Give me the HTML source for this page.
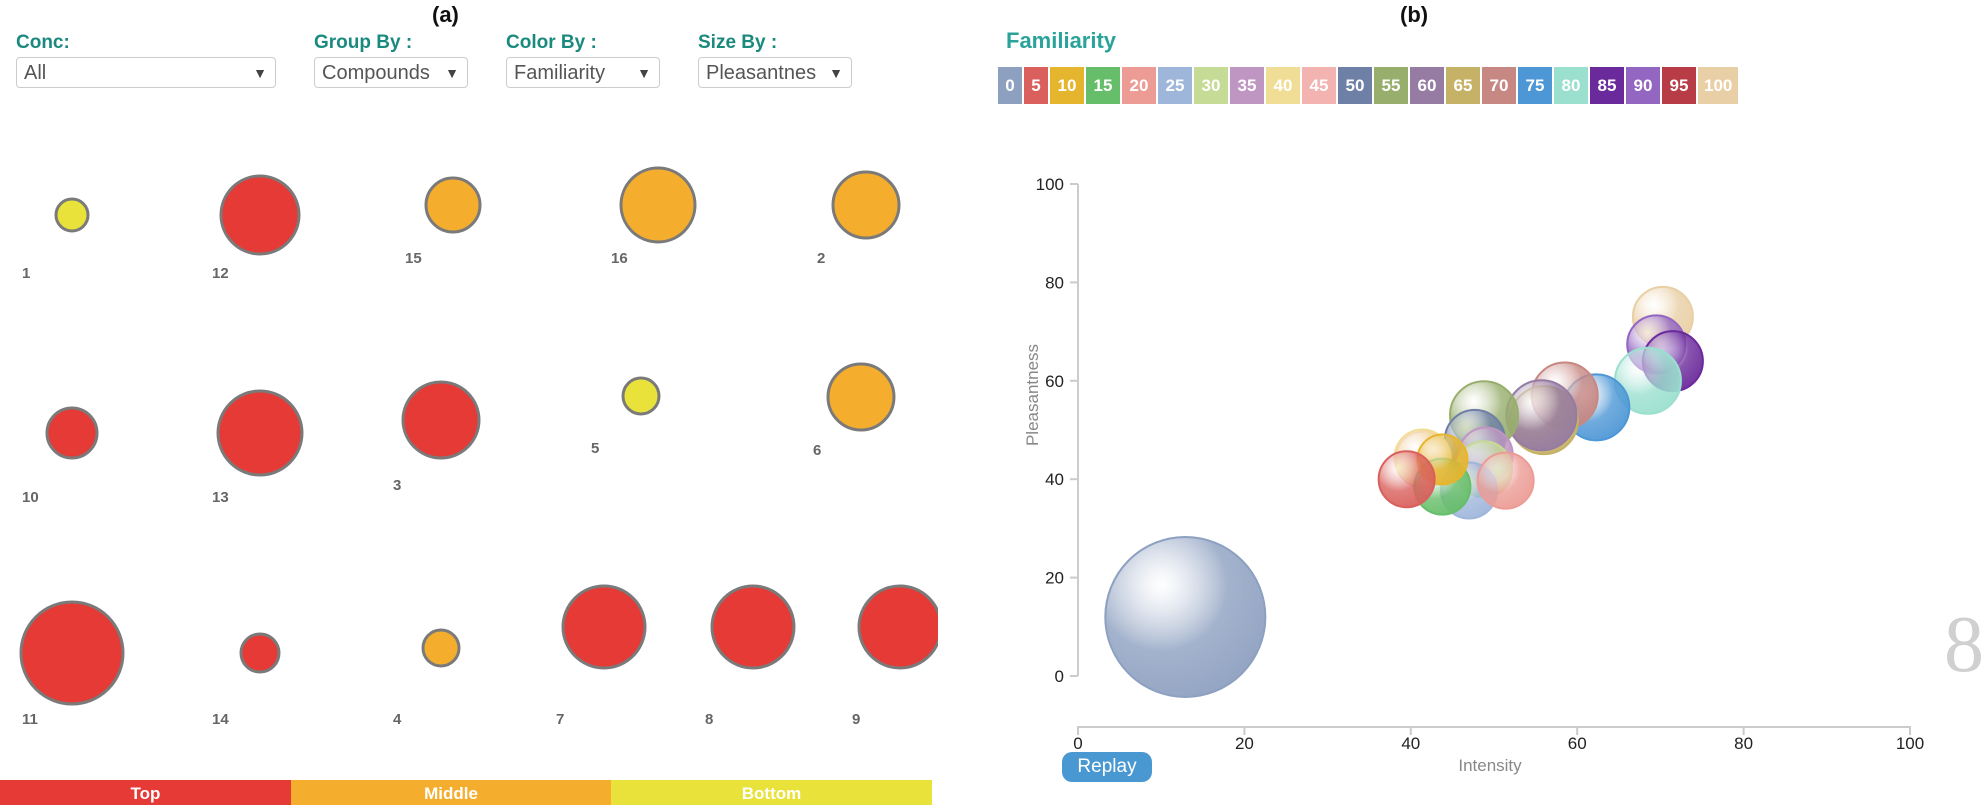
<!DOCTYPE html>
<html><head><meta charset="utf-8">
<style>
body{margin:0;width:1982px;height:812px;background:#fff;font-family:"Liberation Sans",sans-serif;position:relative;overflow:hidden}
.lbl{position:absolute;color:#1b8a7e;font-weight:bold;font-size:19px}
.dd{position:absolute;height:31px;border:1px solid #ccc;border-radius:4px;font-size:20px;color:#555;line-height:31px;padding-left:7px;box-sizing:border-box;background:#fff}
.dd span{position:absolute;right:8px;font-size:14px;color:#444}
.title{position:absolute;font-weight:bold;font-size:22px;color:#111}
</style></head><body>
<div class="title" style="left:432px;top:2px">(a)</div>
<div class="title" style="left:1400px;top:2px">(b)</div>
<div class="lbl" style="left:16px;top:32px">Conc:</div>
<div class="dd" style="left:16px;top:57px;width:260px">All<span>▼</span></div>
<div class="lbl" style="left:314px;top:32px">Group By :</div>
<div class="dd" style="left:314px;top:57px;width:154px">Compounds<span>▼</span></div>
<div class="lbl" style="left:506px;top:32px">Color By :</div>
<div class="dd" style="left:506px;top:57px;width:154px">Familiarity<span>▼</span></div>
<div class="lbl" style="left:698px;top:32px">Size By :</div>
<div class="dd" style="left:698px;top:57px;width:154px;overflow:hidden">Pleasantnes<span style="background:#fff">▼</span></div>
<div class="lbl" style="left:1006px;top:28px;font-size:22px;color:#2aa39a">Familiarity</div>
<div id="legend" style="position:absolute;left:998px;top:67px;height:37px;display:flex;gap:2px"></div>

<svg id="left" width="960" height="812" style="position:absolute;left:0;top:0"></svg>
<svg id="right" width="1982" height="812" style="position:absolute;left:0;top:0"></svg>

<div style="position:absolute;left:1062px;top:752px;width:90px;height:30px;background:#4a98d2;border-radius:10px;color:#fff;font-size:19px;text-align:center;line-height:30px">Replay</div>
<div style="position:absolute;left:1944px;top:600px;font-family:'Liberation Serif',serif;font-size:80px;color:#d0d0d0">8</div>

<script>
const NS="http://www.w3.org/2000/svg";
function mk(p,t,a){const e=document.createElementNS(NS,t);for(const k in a)e.setAttribute(k,a[k]);p.appendChild(e);return e;}
const famLevels=[0,5,10,15,20,25,30,35,40,45,50,55,60,65,70,75,80,85,90,95,100];
const famColors=["#8da0c0","#d9605c","#e6b52e","#67be6a","#ec9c95","#9fb6db","#c6db95","#bf96c2","#f1de96","#f2b3b1","#6f80a6","#98ae6d","#967ba2","#c6b266","#c78883","#4e97d6","#9be0cf","#6b2a9b","#9366c2","#b73c45","#e9cfa5"];
const lg=document.getElementById('legend');
famLevels.forEach((v,i)=>{const d=document.createElement('div');


d.style.cssText=`background:${famColors[i]};color:#fff;font-weight:bold;font-size:17px;height:37px;line-height:37px;padding:0 ${v<10?5:6}px;min-width:${v<10?14:22}px;text-align:center`;
d.textContent=v;lg.appendChild(d);});

const compIds=[1,12,15,16,2,10,13,3,5,6,11,14,4,7,8,9];
const compGroup=["bottom","top","middle","middle","middle","top","top","top","bottom","middle","top","top","middle","top","top","top"];
const compSize=[16,39,27,37,33,25,42,38,18,33,51,19,18,41,41,41];
const compCx=[72,260,453,658,866,72,260,441,641,861,72,260,441,604,753,900];
const compCy=[215,215,205,205,205,433,433,420,396,397,653,653,648,627,627,627];
const labX=[22,212,405,611,817,22,212,393,591,813,22,212,393,556,705,852];
const labY=[278,278,263,263,263,502,502,490,453,455,724,724,724,724,724,724];
const gcol={top:"#e63a37",middle:"#f5ad2e",bottom:"#e8e23a"};
const L=document.getElementById('left');
const clip=mk(L,'clipPath',{id:'lc'});mk(clip,'rect',{x:0,y:0,width:938,height:812});
const g=mk(L,'g',{'clip-path':'url(#lc)'});
compIds.forEach((id,i)=>{
 const c=mk(g,'circle',{cx:compCx[i],cy:compCy[i],r:compSize[i],fill:gcol[compGroup[i]],stroke:'#7a7a7a','stroke-width':3});
 
 
 const t=mk(L,'text',{x:labX[i],y:labY[i],'font-size':15,'font-weight':'bold',fill:'#666','font-family':'Liberation Sans'});
 t.textContent=id;
 
 
});
const bars=[["Top",0,291,"#e63a37"],["Middle",291,611,"#f5ad2e"],["Bottom",611,932,"#e8e23a"]];
bars.forEach(b=>{const r=mk(L,'rect',{x:b[1],y:780,width:b[2]-b[1],height:25,fill:b[3]});


const t=mk(L,'text',{x:(b[1]+b[2])/2,y:799,'text-anchor':'middle',fill:'#fff','font-size':17,'font-weight':'bold','font-family':'Liberation Sans'});t.textContent=b[0];

});

const xTicks=[0,20,40,60,80,100];
const yTicks=[0,20,40,60,80,100];
const famVals=[0,100,90,85,80,75,70,65,60,55,50,45,40,35,30,25,20,15,10,5];
const intensity=[12.9,70.3,69.5,71.5,68.5,62.3,58.5,56,55.7,48.8,47.7,41.5,41.4,49,48.8,47,51.4,43.8,43.8,39.5];
const pleasant=[12,73,67.4,64,60,54.6,57,52,53,53,48,44,44.4,45,42,37.7,39.7,38.5,44,40];
const bsize=[80,30,29,30,33,33,33,34,35,34,30,28,28,27,28,28,28,28,25,28];
const X=v=>1078+v*8.32, Y=v=>676-v*4.92;
const R=document.getElementById('right');
const defs=mk(R,'defs',{});
famColors.forEach((c,i)=>{const rg=mk(defs,'radialGradient',{id:'g'+i,cx:'35%',cy:'30%',r:'75%'});
mk(rg,'stop',{offset:'0%','stop-color':'#fff','stop-opacity':0.45});
mk(rg,'stop',{offset:'55%','stop-color':c,'stop-opacity':0.8});
mk(rg,'stop',{offset:'100%','stop-color':c,'stop-opacity':0.95});});
mk(R,'line',{x1:1078,y1:184,x2:1078,y2:676,stroke:'#ccc','stroke-width':2});
yTicks.forEach(v=>{mk(R,'line',{x1:1070,x2:1078,y1:Y(v),y2:Y(v),stroke:'#ccc','stroke-width':2});
const t=mk(R,'text',{x:1064,y:Y(v)+6,'text-anchor':'end','font-size':17,fill:'#222','font-family':'Liberation Sans'});t.textContent=v;

});
mk(R,'path',{d:`M${X(0)},735V727H${X(100)}V735`,fill:'none',stroke:'#ccc','stroke-width':2});
xTicks.forEach(v=>{mk(R,'line',{x1:X(v),x2:X(v),y1:727,y2:735,stroke:'#ccc','stroke-width':2});
const t=mk(R,'text',{x:X(v),y:749,'text-anchor':'middle','font-size':17,fill:'#222','font-family':'Liberation Sans'});t.textContent=v;

});
let t=mk(R,'text',{x:1490,y:771,'text-anchor':'middle','font-size':17,fill:'#888','font-family':'Liberation Sans'});t.textContent='Intensity';


t=mk(R,'text',{x:0,y:0,'text-anchor':'middle','font-size':17,fill:'#888','font-family':'Liberation Sans',transform:'translate(1038,395) rotate(-90)'});t.textContent='Pleasantness';


famVals.forEach((f,i)=>{const ci=famLevels.indexOf(f);
const c=mk(R,'circle',{cx:X(intensity[i]),cy:Y(pleasant[i]),r:bsize[i],fill:`url(#g${ci})`,stroke:famColors[ci],'stroke-width':2});

});
</script>
</body></html>
